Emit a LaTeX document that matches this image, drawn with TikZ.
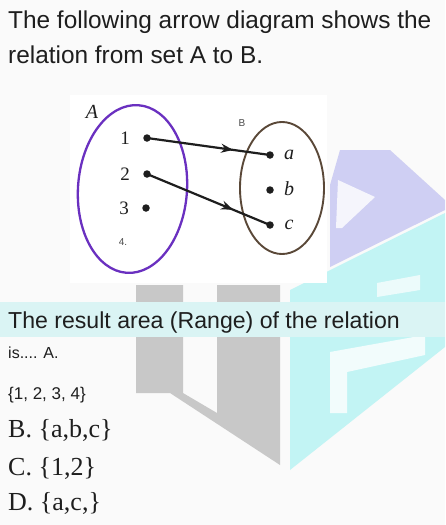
\documentclass[tikz,border=0pt]{standalone}
\usepackage{fontspec}
\setmainfont{Liberation Serif}
\setsansfont{Liberation Sans}
\usetikzlibrary{arrows.meta,decorations.markings}
\definecolor{pagebg}{HTML}{FAFAFA}
\definecolor{ink}{HTML}{1E1E1E}
\definecolor{setA}{HTML}{6A30C0}
\definecolor{setB}{HTML}{5A4838}
\definecolor{wmgray}{HTML}{C8C8C8}
\definecolor{wmcyan}{HTML}{C2F4F4}
\definecolor{wmlav}{HTML}{CFCFF3}
\definecolor{band}{HTML}{DAF4F4}
\tikzset{
  dotnode/.style={circle,fill=ink,inner sep=0pt,minimum size=7.5pt},
  numlbl/.style={font=\fontsize{19}{19}\selectfont,text=ink,inner sep=0pt},
  letlbl/.style={font=\fontsize{20}{20}\selectfont\itshape,text=ink,inner sep=0pt},
  smalllbl/.style={font=\sffamily\fontsize{10}{10}\selectfont,text=ink!80,inner sep=0pt},
  qtext/.style={font=\sffamily\fontsize{24.4}{24.4}\selectfont,text=ink,inner sep=0pt,anchor=base west},
  opttext/.style={font=\fontsize{26}{26}\selectfont,text=ink,inner sep=0pt,anchor=base west},
  relarrow/.style={line width=2.2pt,ink,decoration={markings,mark=at position 0.70 with {\arrow{Stealth[length=12pt,width=9pt]}}},postaction={decorate}}
}
\begin{document}
\begin{tikzpicture}[x=1pt,y=-1pt]
\useasboundingbox (0,0) rectangle (445,525);
\fill[pagebg] (0,0) rectangle (445,525);
% watermark
\fill[wmgray] (136,285) -- (183,285) -- (183,393) -- (217,413) -- (217,285) -- (280,285) -- (280,465) -- (170,393) -- (136,393) -- cycle;
\fill[wmlav] (340,150) -- (390,150) -- (445,200) -- (445,210) -- (330,267) -- (330,185) -- cycle;
\fill[white,opacity=0.8] (338,180) -- (375,197) -- (342,228) -- (336,228) -- cycle;
\fill[wmcyan] (290,290) -- (445,213) -- (445,347) -- (290,470) -- cycle;
\fill[white,opacity=0.8] (330,352) -- (425,335) -- (425,355) -- (347,372) -- (347,413) -- (330,413) -- cycle;
\fill[white,opacity=0.7] (377,283) -- (420,275) -- (420,290) -- (377,297) -- cycle;
% diagram image area
\fill[white] (70,95) rectangle (327,283);
% band
\fill[band] (0,302) rectangle (445,337);
% texts
\node[qtext] (t1) at (8,28) {The following arrow diagram shows the};
\node[qtext] (t2) at (8,63) {relation from set A to B.};
\node[qtext,font=\sffamily\fontsize{23.1}{23.1}\selectfont] (t3) at (8,328) {The result area (Range) of the relation};
\node[qtext,font=\sffamily\fontsize{16}{16}\selectfont] (t4) at (8,358) {is.... A.};
\node[qtext,font=\sffamily\fontsize{17}{17}\selectfont] (t5) at (8,399) {\{1, 2, 3, 4\}};
\node[opttext] (ob) at (8,437) {B. \{a,b,c\}};
\node[opttext] (oc) at (8,475) {C. \{1,2\}};
\node[opttext] (od) at (8,510) {D. \{a,c,\}};
% sets
\draw[setA,line width=2.3pt,rotate around={-4:(132.5,189)}] (132.5,189) ellipse [x radius=54.5pt,y radius=84pt];
\draw[setB,line width=1.9pt] (282,188) ellipse [x radius=42pt,y radius=66pt];
\node[letlbl] (lA) at (92,112) {A};
\node[smalllbl] (lB) at (242,123) {B};
% dots A
\node[dotnode] (p1) at (147,138) {};
\node[dotnode] (p2) at (147,174) {};
\node[dotnode] (p3) at (146,208) {};
\node[numlbl] (n1) at (125,138) {1};
\node[numlbl] (n2) at (125,174) {2};
\node[numlbl] (n3) at (124,208) {3};
\node[smalllbl] (n4) at (123,242) {4.};
% dots B
\node[dotnode] (qa) at (270,155) {};
\node[dotnode] (qb) at (270,190) {};
\node[dotnode] (qc) at (270,225) {};
\node[letlbl] (la) at (289,155) {a};
\node[letlbl] (lb) at (289,189) {b};
\node[letlbl] (lc) at (289,225) {c};
% arrows
\draw[relarrow] (p1.center) -- (qa.center);
\draw[relarrow] (p2.center) -- (qc.center);
\end{tikzpicture}
\end{document}
